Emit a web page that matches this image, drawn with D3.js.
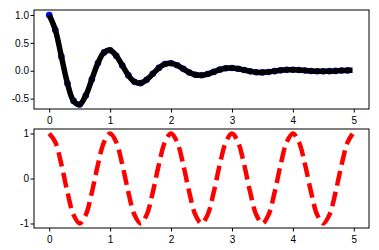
<!DOCTYPE html>
<html>
<head>
<meta charset="utf-8">
<script src="https://cdn.jsdelivr.net/npm/d3@7"></script>
<style>
    body { margin: 0; background: #fff; }
    .tick text { font-family: "Liberation Sans", Arial, sans-serif; font-size: 10px; fill: #000; }
</style>
</head>
<body>
<div id="chart"></div>
<script>
// sample times (top dots and black curve)
const times = [0, 0.1, 0.2, 0.3, 0.4, 0.5, 0.6, 0.7, 0.8, 0.9,
    1.0, 1.1, 1.2, 1.3, 1.4, 1.5, 1.6, 1.7, 1.8, 1.9,
    2.0, 2.1, 2.2, 2.3, 2.4, 2.5, 2.6, 2.7, 2.8, 2.9,
    3.0, 3.1, 3.2, 3.3, 3.4, 3.5, 3.6, 3.7, 3.8, 3.9,
    4.0, 4.1, 4.2, 4.3, 4.4, 4.5, 4.6, 4.7, 4.8, 4.9]

// damped values
const damped = [1.0, 0.732, 0.253, -0.229, -0.542, -0.607, -0.444, -0.153, 0.139, 0.329,
    0.368, 0.269, 0.093, -0.084, -0.200, -0.223, -0.163, -0.056, 0.051, 0.121,
    0.135, 0.099, 0.034, -0.031, -0.073, -0.082, -0.060, -0.021, 0.019, 0.045,
    0.050, 0.036, 0.013, -0.011, -0.027, -0.030, -0.022, -0.008, 0.007, 0.016,
    0.018, 0.013, 0.005, -0.004, -0.010, -0.011, -0.008, -0.003, 0.003, 0.006]

// line runs slightly further than the dots
const lineTimes = times.concat([4.98])
const lineDamped = damped.concat([0.007])

// bottom panel cosine
const cosValues = [1, 0.809, 0.309, -0.309, -0.809, -1, -0.809, -0.309, 0.309, 0.809,
    1, 0.809, 0.309, -0.309, -0.809, -1, -0.809, -0.309, 0.309, 0.809,
    1, 0.809, 0.309, -0.309, -0.809, -1, -0.809, -0.309, 0.309, 0.809,
    1, 0.809, 0.309, -0.309, -0.809, -1, -0.809, -0.309, 0.309, 0.809,
    1, 0.809, 0.309, -0.309, -0.809, -1, -0.809, -0.309, 0.309, 0.809,
    0.992]

const xTicks = [0, 1, 2, 3, 4, 5]
const topYTicks = [-0.5, 0.0, 0.5, 1.0]
const bottomYTicks = [-1, 0, 1]

const width = 379
const height = 250
const left = 34
const right = 369

const svg = d3.select('#chart')
    .append('svg')
    .attr('width', width)
    .attr('height', height)

const xScale = d3.scaleLinear()
    .domain([-0.25, 5.25])
    .range([left, right])

const yTop = d3.scaleLinear()
    .domain([-0.687, 1.09])
    .range([109, 10])

const yBottom = d3.scaleLinear()
    .domain([-1.1, 1.1])
    .range([228, 129])

function fmtMinus(s) { return s.replace('\u2212', '-') }

function drawAxes(yScale, yTicks, yFmt, top, bottom) {
    svg.append('g')
        .attr('transform', `translate(0, ${bottom})`)
        .call(d3.axisBottom(xScale).tickValues(xTicks).tickSize(3.5).tickPadding(4.5).tickFormat(d3.format('d')))
        .call(g => g.select('.domain').remove())

    svg.append('g')
        .attr('transform', `translate(${left}, 0)`)
        .call(d3.axisLeft(yScale).tickValues(yTicks).tickSize(3.5).tickPadding(1.5).tickFormat(d => fmtMinus(yFmt(d))))
        .call(g => g.select('.domain').remove())

    svg.append('rect')
        .attr('x', left)
        .attr('y', top)
        .attr('width', right - left)
        .attr('height', bottom - top)
        .attr('fill', 'none')
        .attr('stroke', '#000')
        .attr('stroke-width', 1)
}

// top panel
const topLine = d3.line()
    .x((d, i) => xScale(lineTimes[i]))
    .y(d => yTop(d))
    .curve(d3.curveCatmullRom)

svg.append('g')
    .selectAll('circle')
    .data(damped)
    .join('circle')
    .attr('cx', (d, i) => xScale(times[i]))
    .attr('cy', d => yTop(d))
    .attr('r', 3.3)
    .attr('fill', '#0000ff')

svg.append('path')
    .datum(lineDamped)
    .attr('d', topLine)
    .attr('fill', 'none')
    .attr('stroke', '#000')
    .attr('stroke-width', 5.5)
    .attr('stroke-linejoin', 'round')

drawAxes(yTop, topYTicks, d3.format('.1f'), 10, 109)

// bottom panel
const bottomLine = d3.line()
    .x((d, i) => xScale(lineTimes[i]))
    .y(d => yBottom(d))
    .curve(d3.curveCatmullRom)

svg.append('path')
    .datum(cosValues)
    .attr('d', bottomLine)
    .attr('fill', 'none')
    .attr('stroke', '#ff0000')
    .attr('stroke-width', 4.5)
    .attr('stroke-dasharray', '14.8,6.4')

drawAxes(yBottom, bottomYTicks, d3.format('d'), 129, 228)
</script>
</body>
</html>
